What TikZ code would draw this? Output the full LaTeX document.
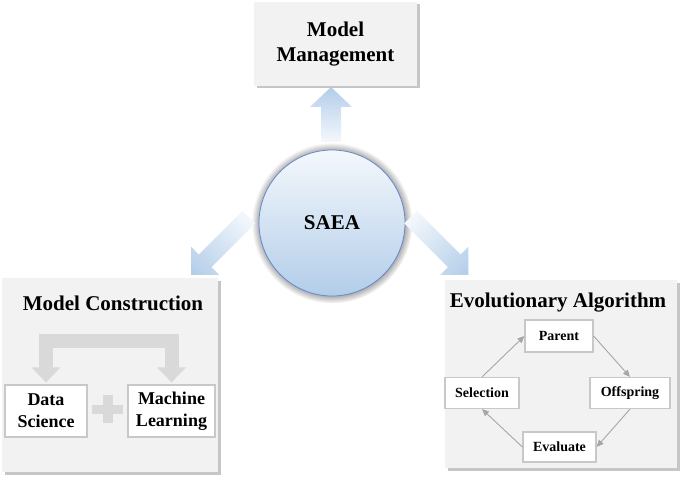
\documentclass[tikz,border=0pt]{standalone}
\usepackage{fontspec}
\setmainfont{Liberation Serif}
\usetikzlibrary{arrows.meta,positioning,shadows,fadings,calc}
\definecolor{panelgray}{HTML}{F2F2F2}
\definecolor{tipblue}{HTML}{B2CDE9}
\definecolor{tailblue}{HTML}{F4F8FC}
\definecolor{ringblue}{HTML}{6688CC}
\definecolor{arrowgray}{HTML}{A6A6A6}
\definecolor{framegray}{HTML}{C8C8C8}
\definecolor{loopgray}{HTML}{D9D9D9}
% fat arrow: #1 centre, #2 angle, #3 length, #4 half shaft, #5 half head
\newcommand{\fatarrow}[5]{%
  \shade[fat,transform canvas={shift={#1},rotate=#2}]
    (-#3/2,-#4) -- (#3/2-20,-#4) -- (#3/2-20,-#5) -- (#3/2,0)
    -- (#3/2-20,#5) -- (#3/2-20,#4) -- (-#3/2,#4) -- cycle;}

\begin{document}
\begin{tikzpicture}[x=1pt,y=-1pt,
  panel/.style={fill=panelgray,inner sep=0pt,drop shadow={shadow xshift=2.5pt,shadow yshift=-2.5pt,opacity=0.45,fill=gray}},
  ttl/.style={font=\fontsize{21}{25}\selectfont\bfseries,align=center},
  inner/.style={draw=framegray,line width=1.2pt,fill=white,inner sep=0pt,font=\fontsize{14}{17}\selectfont\bfseries,align=center},
  fat/.style={left color=tailblue,right color=tipblue,draw=none},
  f/.style={-{Triangle[length=7pt,width=6pt]},line width=0.9pt,arrowgray},
  loop/.style={{Triangle[width=28pt,length=15pt]}-{Triangle[width=28pt,length=15pt]},line width=14pt,loopgray,line join=miter,shorten <=2pt,shorten >=2pt}]
  \useasboundingbox (0,0) rectangle (685,481);
  % ---- top
  \node[panel,ttl,minimum width=163pt,minimum height=84pt] (mm) at (335.5,44) {Model\\Management};
  % ---- centre
  \node[circle,minimum size=146pt,draw=ringblue,line width=0.8pt,top color=tailblue,bottom color=tipblue,
    general shadow={shadow scale=1.1,fill=gray,path fading=circle with fuzzy edge 15 percent},
    font=\fontsize{21}{25}\selectfont\bfseries] (saea) at (332,223) {SAEA};
  \fatarrow{(331,114.5)}{90}{55}{10}{21}
  \fatarrow{(220,246)}{225}{82}{9}{20}
  \fatarrow{(439.5,246)}{-45}{82}{9}{20}
  % ---- model construction
  \node[panel,minimum width=216pt,minimum height=194pt] (mc) at (110,375) {};
  \node[ttl] (mct) at (113,303) {Model Construction};
  \node[inner,font=\fontsize{18}{22}\selectfont\bfseries,minimum width=82pt,minimum height=52pt] (ds) at (46,411) {Data\\Science};
  \node[inner,font=\fontsize{18}{22}\selectfont\bfseries,minimum width=87pt,minimum height=52pt] (ml) at (171.5,411) {Machine\\Learning};
  \draw[loop] (ds.north) -- ++(0,-43.5) -| (ml.north);
  \coordinate (plus) at ($(ds.east)!0.5!(ml.west)+(0,-2)$);
  \fill[loopgray] ($(plus)+(-15.5,-4.5)$) rectangle ($(plus)+(15.5,4.5)$);
  \fill[loopgray] ($(plus)+(-5,-14)$) rectangle ($(plus)+(5,14)$);
  % ---- evolutionary algorithm
  \node[panel,minimum width=232pt,minimum height=188pt] (ea) at (561,374) {};
  \node[ttl] (eat) at (558,303) {Evolutionary Algorithm};
  \node[inner,minimum width=68pt,minimum height=32pt] (par) at (559,336) {Parent};
  \node[inner,minimum width=80pt,minimum height=31pt] (off) at (630,393) {Offspring};
  \node[inner,minimum width=74pt,minimum height=31pt] (sel) at (482,393) {Selection};
  \node[inner,minimum width=73pt,minimum height=30pt] (eva) at (559.5,447) {Evaluate};
  \draw[f] (par.east) -- (off.north);
  \draw[f] (off.south) -- (eva.east);
  \draw[f] (eva.west) -- (sel.south);
  \draw[f] (sel.north) -- (par.west);
\end{tikzpicture}
\end{document}
